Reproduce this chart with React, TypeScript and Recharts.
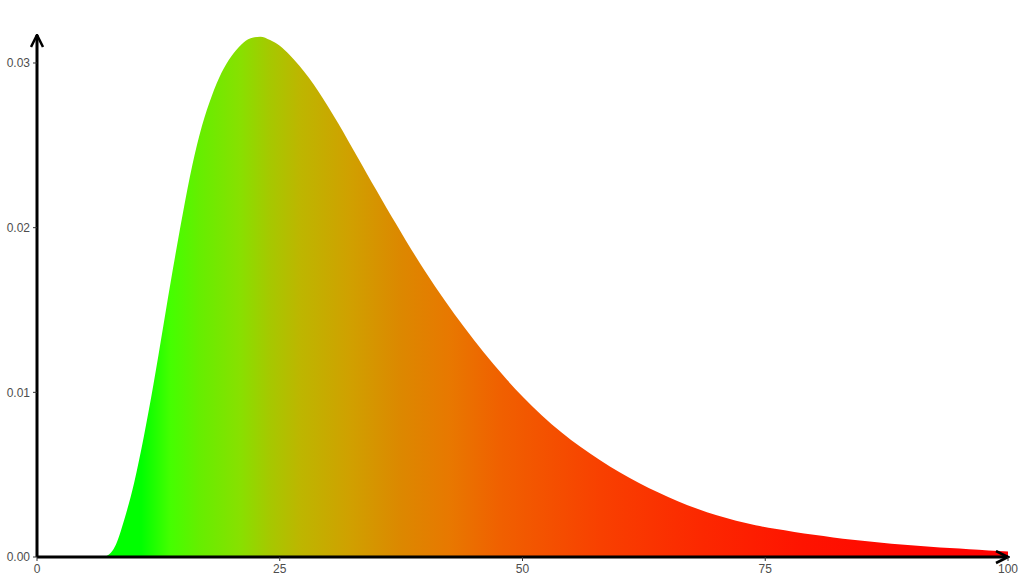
import { AreaChart, Area, XAxis, YAxis } from "recharts";

const xValues = [
  7, 8, 9, 10, 11, 12, 13, 14, 15, 16, 17, 18, 19, 20, 21, 22, 23, 24, 25, 26,
  27, 28, 29, 30, 31, 32, 33, 34, 35, 36, 37, 38, 39, 40, 42, 44, 46, 48, 50,
  52, 54, 56, 58, 60, 62, 64, 66, 68, 70, 72, 74, 76, 78, 80, 82, 84, 86, 88,
  90, 92, 94, 96, 98, 100,
];

const densities = [
  0, 0.0006, 0.0023, 0.0045, 0.0073, 0.0105, 0.014, 0.0175, 0.0208, 0.0238,
  0.0262, 0.028, 0.0294, 0.0304, 0.0311, 0.0315, 0.0316, 0.0314, 0.03105,
  0.0305, 0.02985, 0.0291, 0.02825, 0.02733, 0.02635, 0.02533, 0.02429,
  0.02325, 0.02222, 0.0212, 0.0202, 0.0192, 0.01825, 0.01733, 0.01558,
  0.01395, 0.01243, 0.01103, 0.00975, 0.0086, 0.00758, 0.00668, 0.00588,
  0.00515, 0.0045, 0.00391, 0.00339, 0.00293, 0.00253, 0.0022, 0.00193,
  0.00171, 0.00152, 0.00135, 0.00119, 0.00105, 0.00092, 0.00081, 0.00071,
  0.00062, 0.00054, 0.00047, 0.0004, 0.00034,
];

const xTicks = [0, 25, 50, 75, 100];
const yTicks = [0, 0.01, 0.02, 0.03];

// colour stops read across the fill, left (green) to right (red)
const gradientStops: [number, string][] = [
  [0, "#00ff00"],
  [0.04, "#00ff00"],
  [0.072, "#44ff00"],
  [0.105, "#66ee00"],
  [0.15, "#88e000"],
  [0.183, "#a6c800"],
  [0.216, "#bdb600"],
  [0.272, "#d0a000"],
  [0.327, "#dc8800"],
  [0.382, "#e87800"],
  [0.438, "#f06000"],
  [0.549, "#f84000"],
  [0.66, "#fc2800"],
  [0.77, "#fe1400"],
  [0.88, "#ff0800"],
  [1, "#ff0000"],
];

const data = xValues.map((x, i) => ({ x, density: densities[i] }));

const tickStyle = {
  fill: "#4d4d4d",
  stroke: "none",
  fontSize: 12,
  fontFamily: "'Liberation Sans', Arial, sans-serif",
};

export default function App() {
  return (
    <div style={{ position: "absolute", left: 0, top: 0 }}>
      <AreaChart
        width={1024}
        height={582}
        data={data}
        margin={{ top: 35, right: 16, bottom: 0, left: 0 }}
      >
        <defs>
          <linearGradient id="densityFill" x1="0" y1="0" x2="1" y2="0">
            {gradientStops.map(([offset, color]) => (
              <stop key={offset} offset={offset} stopColor={color} />
            ))}
          </linearGradient>
          <marker
            id="axisArrow"
            viewBox="0 0 10 10"
            refX="9"
            refY="5"
            markerWidth="5"
            markerHeight="5"
            orient="auto-start-reverse"
            markerUnits="strokeWidth"
          >
            <path
              d="M 1 1 L 9 5 L 1 9"
              fill="none"
              stroke="#000"
              strokeWidth="1.7"
            />
          </marker>
        </defs>
        <Area
          type="monotone"
          dataKey="density"
          stroke="none"
          fill="url(#densityFill)"
          fillOpacity={1}
          isAnimationActive={false}
          dot={false}
          activeDot={false}
        />
        <XAxis
          dataKey="x"
          type="number"
          domain={[0, 100]}
          ticks={xTicks}
          height={25}
          tickSize={4}
          tickMargin={3}
          tick={tickStyle}
          tickLine={{ stroke: "#333333", strokeWidth: 1 }}
          axisLine={{
            stroke: "#000",
            strokeWidth: 3,
            markerEnd: "url(#axisArrow)",
          }}
        />
        <YAxis
          type="number"
          domain={[0, 0.0317]}
          ticks={yTicks}
          width={37}
          tickSize={4}
          tickMargin={3}
          tick={tickStyle}
          tickFormatter={(v: number) => v.toFixed(2)}
          tickLine={{ stroke: "#333333", strokeWidth: 1 }}
          axisLine={{
            stroke: "#000",
            strokeWidth: 3,
            markerStart: "url(#axisArrow)",
          }}
          allowDataOverflow
        />
      </AreaChart>
    </div>
  );
}
